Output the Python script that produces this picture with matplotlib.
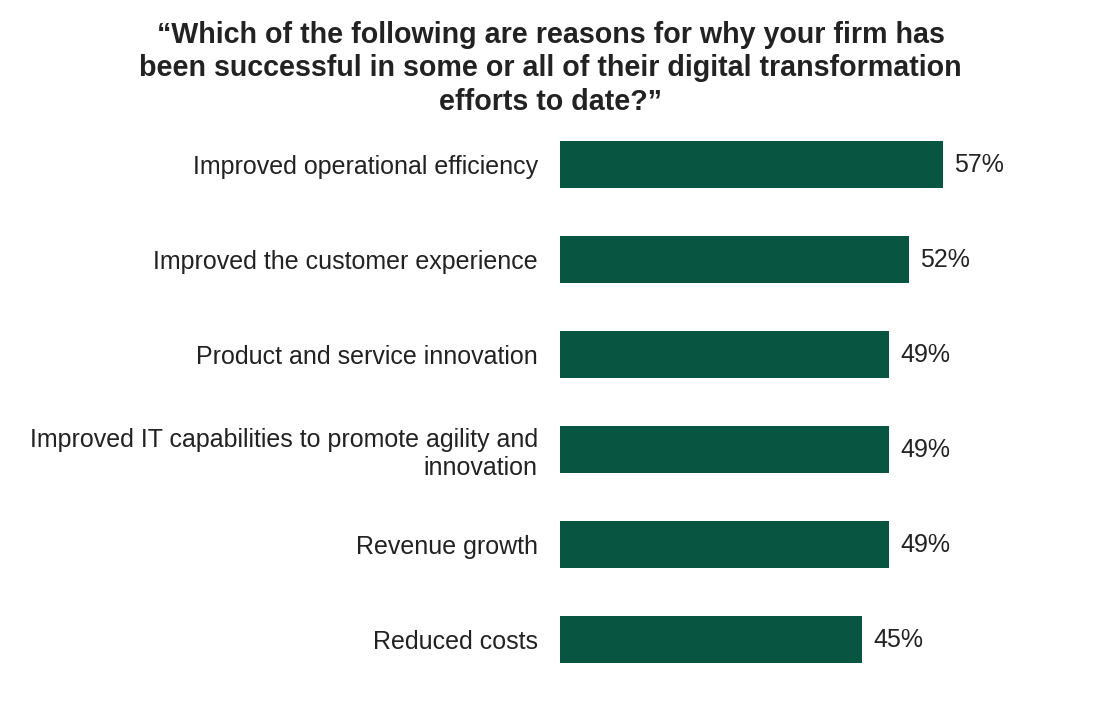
import matplotlib.pyplot as plt

# Survey data
labels = [
    'Improved operational efficiency',
    'Improved the customer experience',
    'Product and service innovation',
    'Improved IT capabilities to promote agility and\ninnovation',
    'Revenue growth',
    'Reduced costs',
]
values = [57, 52, 49, 49, 49, 45]

title = ('\u201cWhich of the following are reasons for why your firm has\n'
         'been successful in some or all of their digital transformation\n'
         'efforts to date?\u201d')

plt.rcParams['font.family'] = ['Liberation Sans', 'DejaVu Sans']

fig = plt.figure(figsize=(11.01, 7.12), dpi=100)
# axes placed so that bars start at x=560px, first bar center at y~164px
ax = fig.add_axes([560 / 1101, 1 - 687 / 712, 537 / 1101, 570 / 712])

ypos = list(range(len(labels)))
ax.barh(ypos, values, height=0.5, color='#085641')
ax.set_xlim(0, 80)
ax.set_ylim(len(labels) - 0.5, -0.5)

for y, v in zip(ypos, values):
    ax.text(v + 1.7, y + 0.01, f'{v}%', va='center', ha='left', fontsize=18, color='#222222')

ax.set_yticks(ypos)
ax.set_yticklabels(labels, fontsize=18, color='#222222', linespacing=1.2)
ax.tick_params(axis='y', length=0, pad=16)
ax.set_xticks([])
for s in ax.spines.values():
    s.set_visible(False)

fig.text(0.5, 1 - 21 / 712, title, ha='center', va='top', fontsize=20.6,
         fontweight='bold', color='#222222', linespacing=1.25)

fig.savefig('out.png', dpi=100)
